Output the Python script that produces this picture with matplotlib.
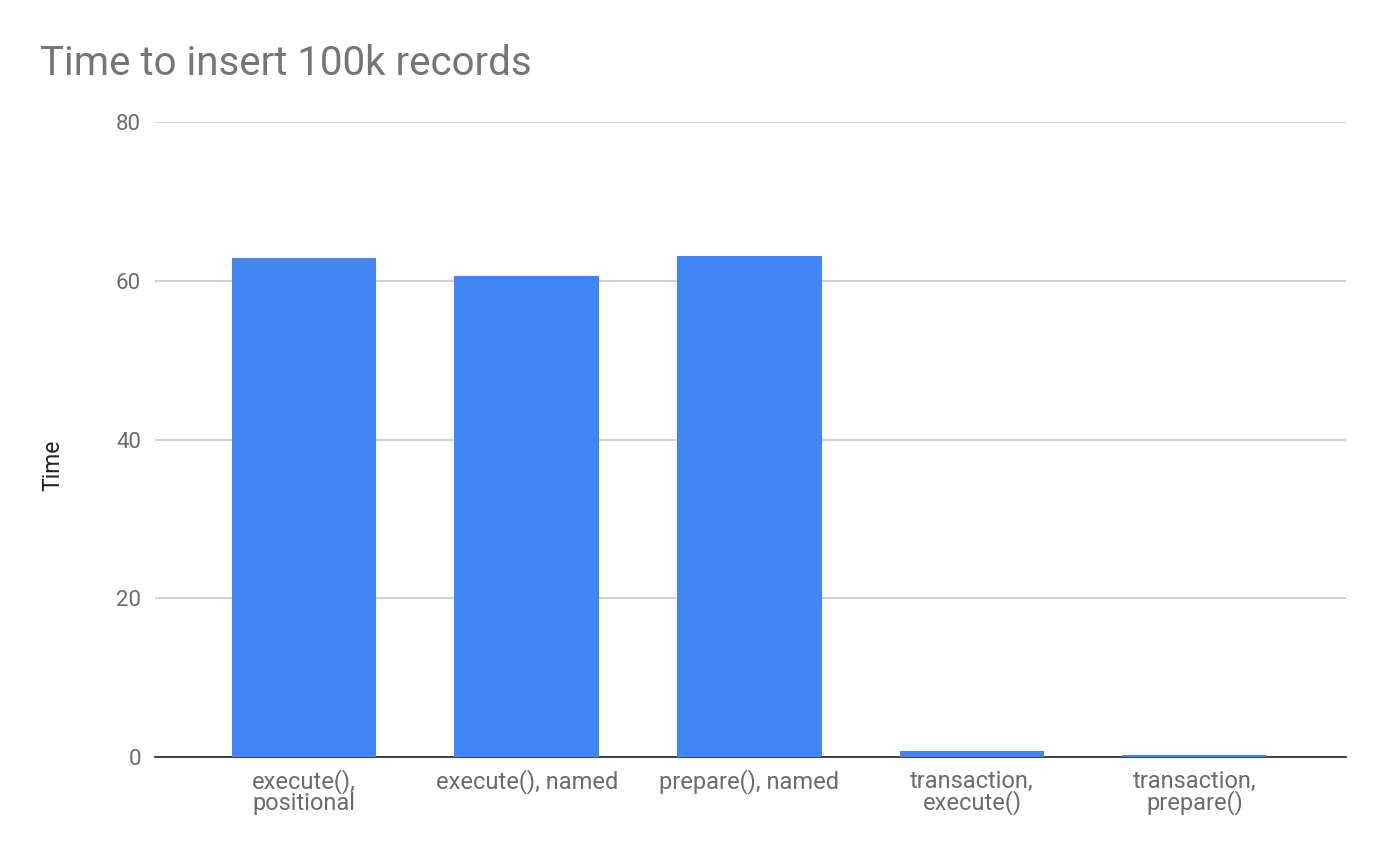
import matplotlib
matplotlib.use("Agg")
import matplotlib.pyplot as plt

# data
categories = ["execute(),\npositional", "execute(), named", "prepare(), named",
              "transaction,\nexecute()", "transaction,\nprepare()"]
times = [62.9, 60.6, 63.1, 0.8, 0.3]
y_ticks = [0, 20, 40, 60, 80]

plt.rcParams['font.family'] = ['Roboto', 'DejaVu Sans']

fig = plt.figure(figsize=(13.86, 8.58), dpi=100)
ax = fig.add_axes([0.1118, 0.1177, 0.8593, 0.7401])

x = range(len(categories))
ax.bar(x, times, width=0.65, color='#4285F4', zorder=3)

ax.set_xlim(-0.67, 4.68)
ax.set_ylim(0, 80)
ax.set_yticks(y_ticks)
ax.set_xticks(list(x))
ax.set_xticklabels(categories, fontsize=17, color='#6b6b6b', linespacing=0.85)
ax.tick_params(axis='y', length=0, pad=10, labelsize=16, labelcolor='#6b6b6b')
ax.tick_params(axis='x', length=0, pad=9)

ax.grid(axis='y', color='#cccccc', linewidth=1.3, zorder=0)
for s in ['top', 'right', 'left']:
    ax.spines[s].set_visible(False)
ax.spines['bottom'].set_color('#333333')
ax.spines['bottom'].set_linewidth(1.3)
ax.spines['bottom'].set_zorder(2)

fig.text(0.0289, 0.926, "Time to insert 100k records", fontsize=29,
         color='#757575', ha='left', va='center')
fig.text(0.038, 0.458, "Time", fontsize=16.5, color='#222222',
         rotation=90, ha='center', va='center')

fig.savefig("out.png", dpi=100, facecolor='white')
